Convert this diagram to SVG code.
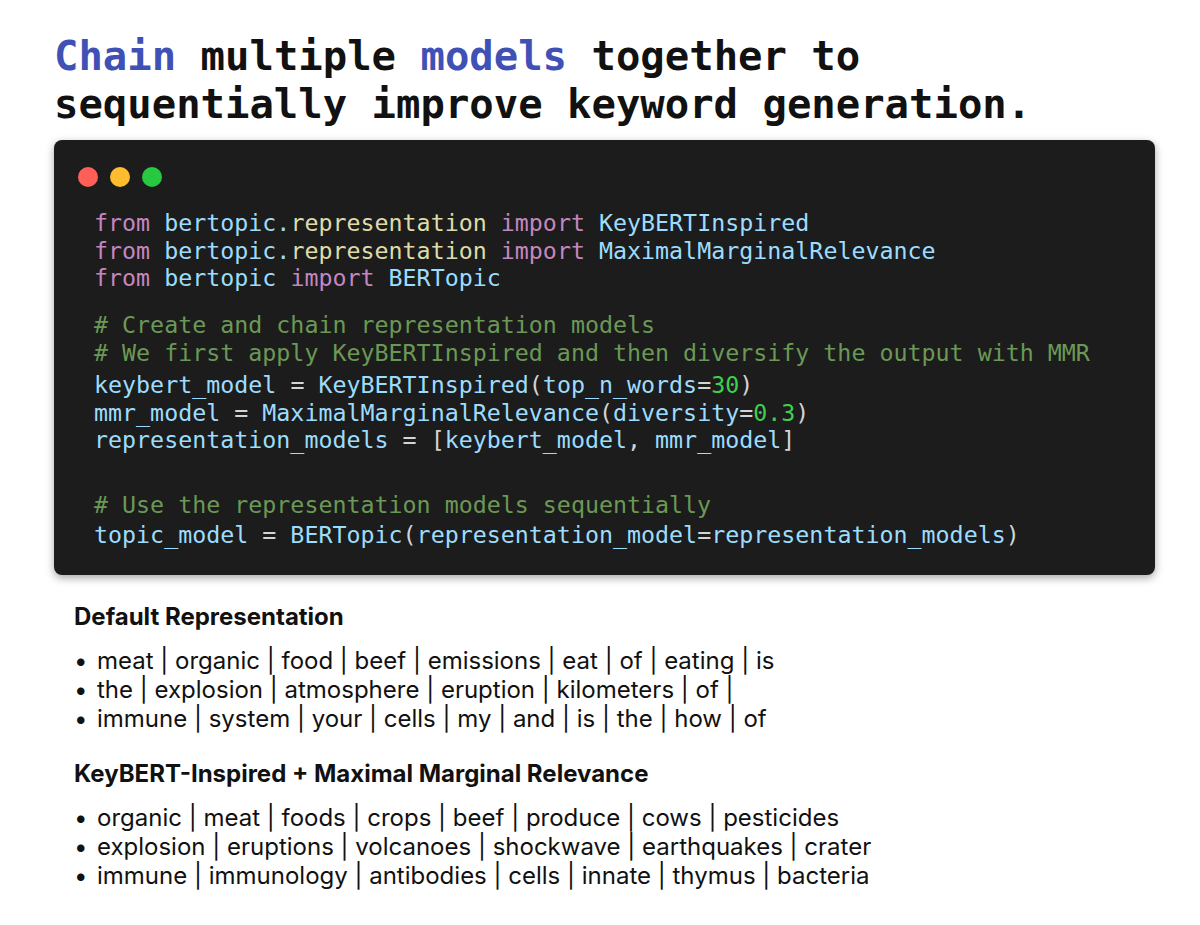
<svg xmlns="http://www.w3.org/2000/svg" width="1200" height="925" viewBox="0 0 1200 925">
<defs>
<filter id="sh" x="-5%" y="-5%" width="110%" height="115%"><feDropShadow dx="0" dy="3" stdDeviation="4" flood-color="#000" flood-opacity="0.35"/></filter>
</defs>
<style>
.t{font-family:"DejaVu Sans Mono",monospace;font-weight:bold;font-size:40.6px;fill:#111}
.b{fill:#3f51b5}
.c{font-family:"DejaVu Sans Mono",monospace;font-size:23.3px;fill:#9cdcfe;white-space:pre}
.k{fill:#c586c0}.y{fill:#dcdcaa}.g{fill:#6a9955}.n{fill:#3fcf4f}.w{fill:#d4d4d4}
.h{font-family:Inter,"Noto Sans",sans-serif;font-weight:bold;font-size:24px;fill:#111}
.l{font-family:Inter,"Noto Sans",sans-serif;font-size:24px;fill:#111;white-space:pre}
</style>
<rect width="1200" height="925" fill="#fff"/>
<g id="title">
<text class="t" x="54" y="70"><tspan class="b">Chain</tspan> multiple <tspan class="b">models</tspan> together to</text>
<text class="t" x="54" y="118">sequentially improve keyword generation.</text>
</g>
<g id="code">
<rect x="54" y="140" width="1101" height="435" rx="8" fill="#1e1e1e" filter="url(#sh)"/>
<circle cx="88" cy="177" r="10" fill="#ff5f57"/>
<circle cx="120" cy="177" r="10" fill="#febc2e"/>
<circle cx="152" cy="177" r="10" fill="#28c840"/>
<text class="c" x="94" y="231" xml:space="preserve"><tspan class="k">from</tspan> bertopic.<tspan class="y">representation</tspan> <tspan class="k">import</tspan> KeyBERTInspired</text>
<text class="c" x="94" y="259" xml:space="preserve"><tspan class="k">from</tspan> bertopic.<tspan class="y">representation</tspan> <tspan class="k">import</tspan> MaximalMarginalRelevance</text>
<text class="c" x="94" y="286" xml:space="preserve"><tspan class="k">from</tspan> bertopic <tspan class="k">import</tspan> BERTopic</text>
<text class="c g" x="94" y="333" xml:space="preserve"># Create and chain representation models</text>
<text class="c g" x="94" y="361" xml:space="preserve"># We first apply KeyBERTInspired and then diversify the output with MMR</text>
<text class="c" x="94" y="393" xml:space="preserve">keybert_model <tspan class="w">=</tspan> KeyBERTInspired<tspan class="w">(</tspan>top_n_words<tspan class="w">=</tspan><tspan class="n">30</tspan><tspan class="w">)</tspan></text>
<text class="c" x="94" y="421" xml:space="preserve">mmr_model <tspan class="w">=</tspan> MaximalMarginalRelevance<tspan class="w">(</tspan>diversity<tspan class="w">=</tspan><tspan class="n">0.3</tspan><tspan class="w">)</tspan></text>
<text class="c" x="94" y="448" xml:space="preserve">representation_models <tspan class="w">= [</tspan>keybert_model<tspan class="w">,</tspan> mmr_model<tspan class="w">]</tspan></text>
<text class="c g" x="94" y="513" xml:space="preserve"># Use the representation models sequentially</text>
<text class="c" x="94" y="543" xml:space="preserve">topic_model <tspan class="w">=</tspan> BERTopic<tspan class="w">(</tspan>representation_model<tspan class="w">=</tspan>representation_models<tspan class="w">)</tspan></text>
</g>
<g id="default">
<text class="h" x="74" y="625">Default Representation</text>
<text class="l" x="74" y="669">•</text><text class="l" x="97" y="669">meat | organic | food | beef | emissions | eat | of | eating | is</text>
<text class="l" x="74" y="698">•</text><text class="l" x="97" y="698">the | explosion | atmosphere | eruption | kilometers | of |</text>
<text class="l" x="74" y="727">•</text><text class="l" x="97" y="727">immune | system | your | cells | my | and | is | the | how | of</text>
</g>
<g id="mmr">
<text class="h" x="74" y="782">KeyBERT-Inspired + Maximal Marginal Relevance</text>
<text class="l" x="74" y="826">•</text><text class="l" x="97" y="826">organic | meat | foods | crops | beef | produce | cows | pesticides</text>
<text class="l" x="74" y="855">•</text><text class="l" x="97" y="855">explosion | eruptions | volcanoes | shockwave | earthquakes | crater</text>
<text class="l" x="74" y="884">•</text><text class="l" x="97" y="884">immune | immunology | antibodies | cells | innate | thymus | bacteria</text>
</g>
</svg>
